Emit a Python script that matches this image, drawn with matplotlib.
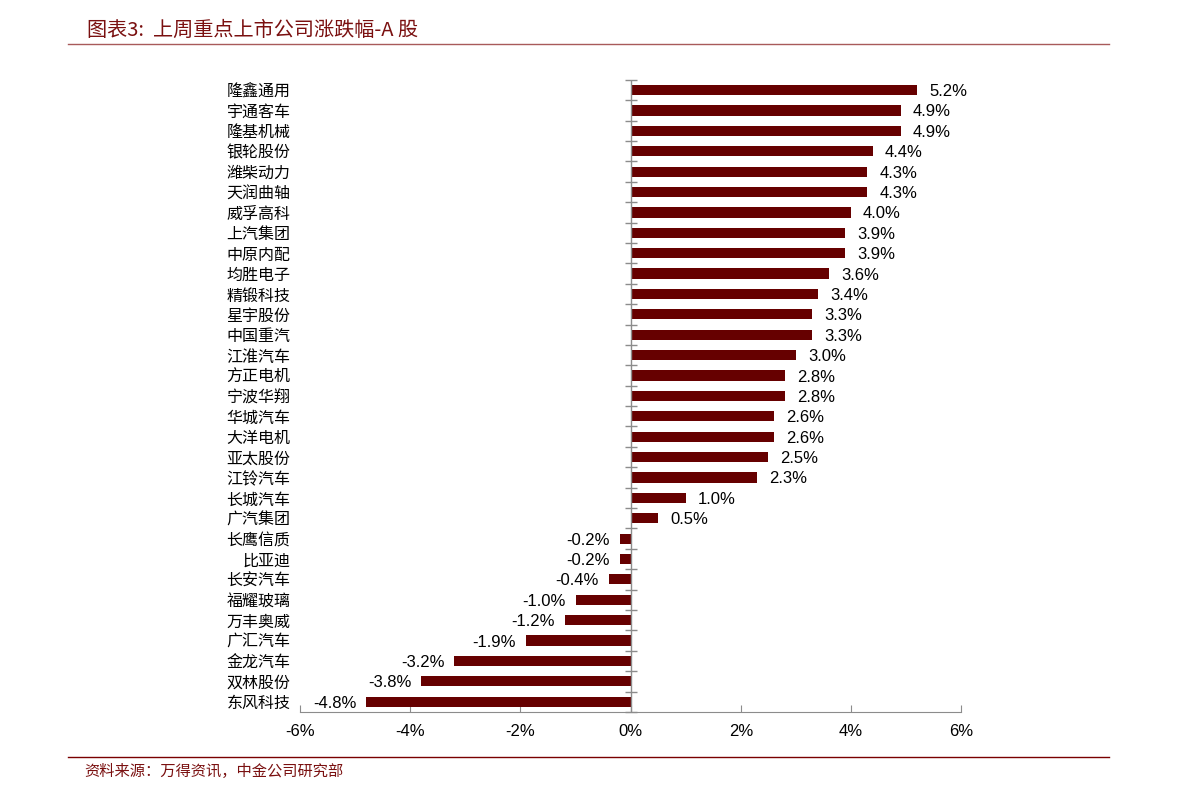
import numpy as np
import matplotlib
matplotlib.use('Agg')
import matplotlib.pyplot as plt
from matplotlib.ticker import FuncFormatter

plt.rcParams['font.family'] = ['Noto Sans CJK SC', 'DejaVu Sans']

companies = ['隆鑫通用', '宇通客车', '隆基机械', '银轮股份', '潍柴动力', '天润曲轴',
             '威孚高科', '上汽集团', '中原内配', '均胜电子', '精锻科技', '星宇股份',
             '中国重汽', '江淮汽车', '方正电机', '宁波华翔', '华城汽车', '大洋电机',
             '亚太股份', '江铃汽车', '长城汽车', '广汽集团', '长鹰信质', '比亚迪',
             '长安汽车', '福耀玻璃', '万丰奥威', '广汇汽车', '金龙汽车', '双林股份',
             '东风科技']
changes = [5.2, 4.9, 4.9, 4.4, 4.3, 4.3, 4.0, 3.9, 3.9, 3.6, 3.4, 3.3, 3.3, 3.0,
           2.8, 2.8, 2.6, 2.6, 2.5, 2.3, 1.0, 0.5, -0.2, -0.2, -0.4, -1.0, -1.2,
           -1.9, -3.2, -3.8, -4.8]
xticks = [-6, -4, -2, 0, 2, 4, 6]

bar_color = '#660000'
axis_color = '#8c8c8c'
red_text = '#7a1010'
num_font = ['Liberation Sans', 'DejaVu Sans']

fig = plt.figure(figsize=(11.91, 7.99), dpi=100)
ax = fig.add_axes([0.252, 0.109, 0.555, 0.791])

y = np.arange(len(companies))
ax.barh(y, changes, height=0.5, color=bar_color, zorder=2)

for yi, v in zip(y, changes):
    if v >= 0:
        ax.text(v + 0.22, yi, f'{v:.1f}%', ha='left', va='center_baseline',
                fontsize=12, family=num_font, color='black')
    else:
        ax.text(v - 0.18, yi, f'{v:.1f}%', ha='right', va='center_baseline',
                fontsize=12, family=num_font, color='black')

ax.set_xlim(-6, 6)
ax.set_ylim(len(companies) - 0.5, -0.5)
ax.set_xticks(xticks)
ax.xaxis.set_major_formatter(FuncFormatter(lambda v, p: f'{v:.0f}%'))
for lab in ax.get_xticklabels():
    lab.set_family(num_font)
ax.tick_params(axis='x', direction='in', length=5, color=axis_color,
               labelsize=12, pad=9)

ax.set_yticks(y)
ax.set_yticklabels(companies, fontsize=11.5)
ax.tick_params(axis='y', length=0, pad=7)

for side in ['top', 'right', 'left']:
    ax.spines[side].set_visible(False)
ax.spines['bottom'].set_color(axis_color)

# category axis at zero with ticks between categories
ax.axvline(0, color=axis_color, linewidth=1, zorder=3)
bounds = np.arange(len(companies) + 1) - 0.5
ax.plot(np.zeros(len(bounds)), bounds, linestyle='none', marker='_',
        markersize=8, color=axis_color, clip_on=False, zorder=3)

# title and footer
fig.text(0.073, 0.962, '图表3:  上周重点上市公司涨跌幅-A 股', fontsize=14.5,
         style='italic', color=red_text, ha='left', va='center')
fig.add_artist(plt.Line2D([0.057, 0.931], [0.945, 0.945], color='#a85a5a',
                          linewidth=1, transform=fig.transFigure))
fig.add_artist(plt.Line2D([0.057, 0.931], [0.052, 0.052], color='#7a0000',
                          linewidth=1, transform=fig.transFigure))
fig.text(0.071, 0.034, '资料来源：万得资讯，中金公司研究部', fontsize=11,
         style='italic', color=red_text, ha='left', va='center')

fig.savefig('out.png', dpi=100)
